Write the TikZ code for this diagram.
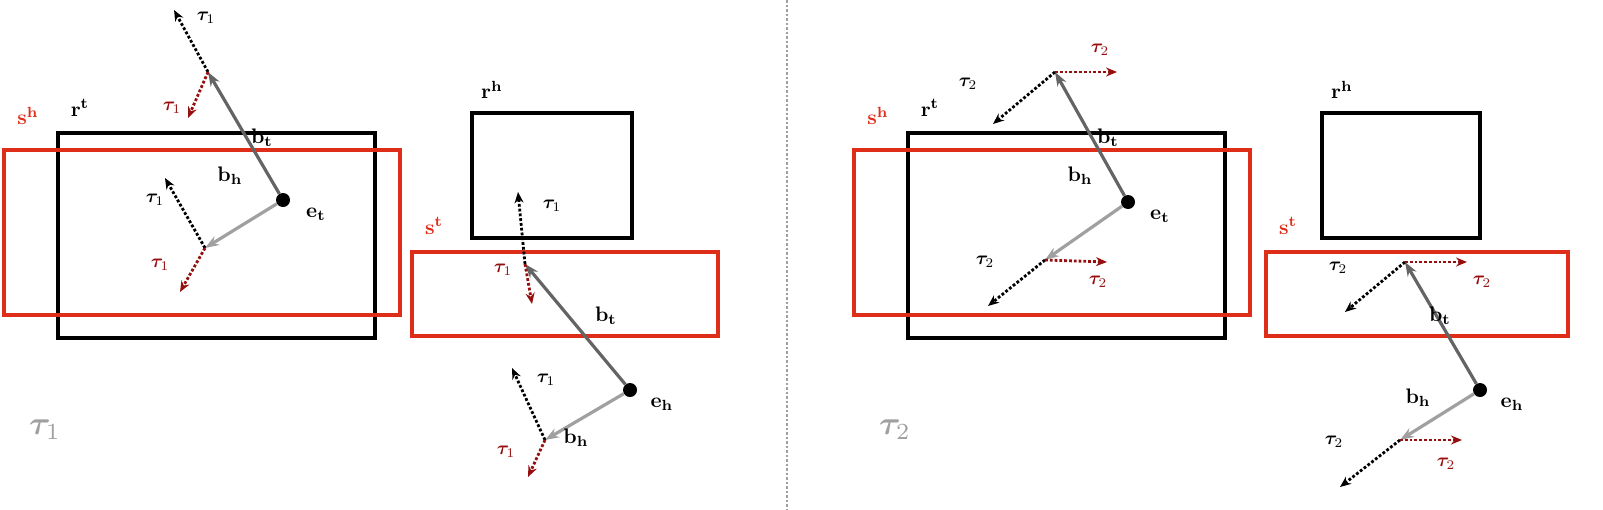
\documentclass[tikz,border=0pt]{standalone}
\usepackage{bm}
\usetikzlibrary{arrows.meta}
\definecolor{sred}{RGB}{222,45,25}
\definecolor{tred}{RGB}{150,15,15}
\definecolor{dgray}{RGB}{100,100,100}
\definecolor{lgray}{RGB}{160,160,160}
\begin{document}
\begin{tikzpicture}[x=1pt,y=-1pt,
  box/.style={draw=black,line width=3.5pt},
  rbox/.style={draw=sred,line width=3.5pt},
  bt/.style={draw=dgray,line width=3.2pt,-{Stealth[length=14pt,width=10pt]}},
  bh/.style={draw=lgray,line width=3.2pt,-{Stealth[length=14pt,width=10pt]}},
  dk/.style={draw=black,line width=2.8pt,dotted,-{Stealth[length=11pt,width=9pt]}},
  dr/.style={draw=tred,line width=2.8pt,dotted,-{Stealth[length=11pt,width=9pt]}},
  lab/.style={scale=2.1},
  tl/.style={scale=1.9},
  dot/.style={circle,fill=black,inner sep=0pt,minimum size=14pt}]
\useasboundingbox (0,0) rectangle (1603,509);
\draw[lgray,line width=2.5pt,dotted] (787,0) -- (787,509);
% ---------- left
\draw[box] (58,133) rectangle (375,338);
\draw[rbox] (4,150) rectangle (400,315);
\draw[box] (472,113) rectangle (632,238);
\draw[rbox] (412,252) rectangle (718,336);
\node[lab] at (80,108) {$\mathbf{r}^{\mathbf{t}}$};
\node[lab,text=sred] at (28,116) {$\mathbf{s}^{\mathbf{h}}$};
\node[lab] at (492,90) {$\mathbf{r}^{\mathbf{h}}$};
\node[lab,text=sred] at (434,226) {$\mathbf{s}^{\mathbf{t}}$};
\node[dot] (et) at (283,200) {};
\node[lab] at (316,214) {$\mathbf{e}_{\mathbf{t}}$};
\coordinate (a1) at (208,72);
\draw[bt] (et) -- (a1);
\node[lab] at (262,138) {$\mathbf{b}_{\mathbf{t}}$};
\coordinate (a1k) at (174,10); \coordinate (a1r) at (188,118);
\draw[dk] (a1) -- (a1k); \draw[dr] (a1) -- (a1r);
\node[tl] at (206,18) {$\bm\tau_1$};
\node[tl,text=tred] at (172,108) {$\bm\tau_1$};
\coordinate (a2) at (205,248);
\draw[bh] (et) -- (a2);
\node[lab] at (230,176) {$\mathbf{b}_{\mathbf{h}}$};
\coordinate (a2k) at (165,178); \coordinate (a2r) at (180,292);
\draw[dk] (a2) -- (a2k); \draw[dr] (a2) -- (a2r);
\node[tl] at (155,200) {$\bm\tau_1$};
\node[tl,text=tred] at (160,265) {$\bm\tau_1$};
\node[dot] (eh) at (630,390) {};
\node[lab] at (662,404) {$\mathbf{e}_{\mathbf{h}}$};
\coordinate (a3) at (525,264);
\draw[bt] (eh) -- (a3);
\node[lab] at (606,316) {$\mathbf{b}_{\mathbf{t}}$};
\coordinate (a3k) at (518,192); \coordinate (a3r) at (532,304);
\draw[dk] (a3) -- (a3k); \draw[dr] (a3) -- (a3r);
\node[tl] at (552,206) {$\bm\tau_1$};
\node[tl,text=tred] at (503,270) {$\bm\tau_1$};
\coordinate (a4) at (545,440);
\draw[bh] (eh) -- (a4);
\node[lab] at (576,438) {$\mathbf{b}_{\mathbf{h}}$};
\coordinate (a4k) at (512,368); \coordinate (a4r) at (528,477);
\draw[dk] (a4) -- (a4k); \draw[dr] (a4) -- (a4r);
\node[tl] at (546,380) {$\bm\tau_1$};
\node[tl,text=tred] at (506,452) {$\bm\tau_1$};
\node[text=lgray,scale=3.3] at (45,430) {$\bm\tau_1$};
% ---------- right
\draw[box] (908,133) rectangle (1225,338);
\draw[rbox] (854,150) rectangle (1250,315);
\draw[box] (1322,113) rectangle (1480,238);
\draw[rbox] (1266,252) rectangle (1568,336);
\node[lab] at (930,108) {$\mathbf{r}^{\mathbf{t}}$};
\node[lab,text=sred] at (878,116) {$\mathbf{s}^{\mathbf{h}}$};
\node[lab] at (1342,90) {$\mathbf{r}^{\mathbf{h}}$};
\node[lab,text=sred] at (1288,226) {$\mathbf{s}^{\mathbf{t}}$};
\node[dot] (et2) at (1128,202) {};
\node[lab] at (1160,216) {$\mathbf{e}_{\mathbf{t}}$};
\coordinate (b1) at (1055,72);
\draw[bt] (et2) -- (b1);
\node[lab] at (1108,138) {$\mathbf{b}_{\mathbf{t}}$};
\coordinate (b1k) at (993,124); \coordinate (b1r) at (1117,72);
\draw[dk] (b1) -- (b1k); \draw[dr] (b1) -- (b1r);
\node[tl] at (968,84) {$\bm\tau_2$};
\node[tl,text=tred] at (1100,50) {$\bm\tau_2$};
\coordinate (b2) at (1045,260);
\draw[bh] (et2) -- (b2);
\node[lab] at (1080,176) {$\mathbf{b}_{\mathbf{h}}$};
\coordinate (b2k) at (988,306); \coordinate (b2r) at (1107,262);
\draw[dk] (b2) -- (b2k); \draw[dr] (b2) -- (b2r);
\node[tl] at (985,262) {$\bm\tau_2$};
\node[tl,text=tred] at (1098,282) {$\bm\tau_2$};
\node[dot] (eh2) at (1480,390) {};
\node[lab] at (1512,404) {$\mathbf{e}_{\mathbf{h}}$};
\coordinate (b3) at (1405,262);
\draw[bt] (eh2) -- (b3);
\node[lab] at (1440,316) {$\mathbf{b}_{\mathbf{t}}$};
\coordinate (b3k) at (1345,312); \coordinate (b3r) at (1467,262);
\draw[dk] (b3) -- (b3k); \draw[dr] (b3) -- (b3r);
\node[tl] at (1338,268) {$\bm\tau_2$};
\node[tl,text=tred] at (1482,282) {$\bm\tau_2$};
\coordinate (b4) at (1400,440);
\draw[bh] (eh2) -- (b4);
\node[lab] at (1418,398) {$\mathbf{b}_{\mathbf{h}}$};
\coordinate (b4k) at (1340,487); \coordinate (b4r) at (1462,440);
\draw[dk] (b4) -- (b4k); \draw[dr] (b4) -- (b4r);
\node[tl] at (1334,442) {$\bm\tau_2$};
\node[tl,text=tred] at (1446,464) {$\bm\tau_2$};
\node[text=lgray,scale=3.3] at (895,430) {$\bm\tau_2$};
\end{tikzpicture}
\end{document}
